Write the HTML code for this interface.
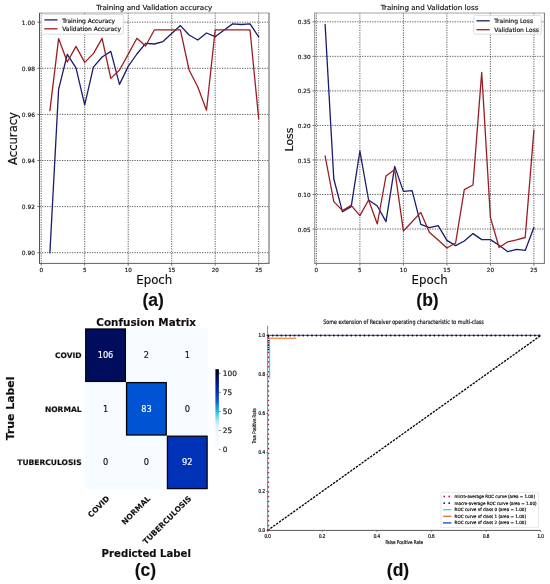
<!DOCTYPE html>
<html><head><meta charset="utf-8"><title>Training results</title>
<style>html,body{margin:0;padding:0;background:#fff;} svg{display:block;}</style></head>
<body>
<svg width="550" height="584" viewBox="0 0 550 584">
<defs><filter id="soft" x="0" y="0" width="100%" height="100%" filterUnits="userSpaceOnUse"><feGaussianBlur stdDeviation="0.32"/></filter></defs>
<rect width="550" height="584" fill="#fff"/>
<g filter="url(#soft)">
<rect width="550" height="584" fill="#fff"/>
<line x1="41.2" y1="13" x2="41.2" y2="263.4" stroke="#2a2a2a" stroke-width="0.75" stroke-dasharray="1.2 1.2"/>
<line x1="41.2" y1="263.4" x2="41.2" y2="265.6" stroke="#333" stroke-width="0.7" />
<text x="41.2" y="272.2" font-size="5.6" text-anchor="middle" font-weight="normal" font-family="'DejaVu Sans', 'Liberation Sans', sans-serif" fill="#111" stroke="#111" stroke-width="0.16" >0</text>
<line x1="84.7" y1="13" x2="84.7" y2="263.4" stroke="#2a2a2a" stroke-width="0.75" stroke-dasharray="1.2 1.2"/>
<line x1="84.7" y1="263.4" x2="84.7" y2="265.6" stroke="#333" stroke-width="0.7" />
<text x="84.7" y="272.2" font-size="5.6" text-anchor="middle" font-weight="normal" font-family="'DejaVu Sans', 'Liberation Sans', sans-serif" fill="#111" stroke="#111" stroke-width="0.16" >5</text>
<line x1="128.2" y1="13" x2="128.2" y2="263.4" stroke="#2a2a2a" stroke-width="0.75" stroke-dasharray="1.2 1.2"/>
<line x1="128.2" y1="263.4" x2="128.2" y2="265.6" stroke="#333" stroke-width="0.7" />
<text x="128.2" y="272.2" font-size="5.6" text-anchor="middle" font-weight="normal" font-family="'DejaVu Sans', 'Liberation Sans', sans-serif" fill="#111" stroke="#111" stroke-width="0.16" >10</text>
<line x1="171.7" y1="13" x2="171.7" y2="263.4" stroke="#2a2a2a" stroke-width="0.75" stroke-dasharray="1.2 1.2"/>
<line x1="171.7" y1="263.4" x2="171.7" y2="265.6" stroke="#333" stroke-width="0.7" />
<text x="171.7" y="272.2" font-size="5.6" text-anchor="middle" font-weight="normal" font-family="'DejaVu Sans', 'Liberation Sans', sans-serif" fill="#111" stroke="#111" stroke-width="0.16" >15</text>
<line x1="215.2" y1="13" x2="215.2" y2="263.4" stroke="#2a2a2a" stroke-width="0.75" stroke-dasharray="1.2 1.2"/>
<line x1="215.2" y1="263.4" x2="215.2" y2="265.6" stroke="#333" stroke-width="0.7" />
<text x="215.2" y="272.2" font-size="5.6" text-anchor="middle" font-weight="normal" font-family="'DejaVu Sans', 'Liberation Sans', sans-serif" fill="#111" stroke="#111" stroke-width="0.16" >20</text>
<line x1="258.7" y1="13" x2="258.7" y2="263.4" stroke="#2a2a2a" stroke-width="0.75" stroke-dasharray="1.2 1.2"/>
<line x1="258.7" y1="263.4" x2="258.7" y2="265.6" stroke="#333" stroke-width="0.7" />
<text x="258.7" y="272.2" font-size="5.6" text-anchor="middle" font-weight="normal" font-family="'DejaVu Sans', 'Liberation Sans', sans-serif" fill="#111" stroke="#111" stroke-width="0.16" >25</text>
<line x1="39.5" y1="252.7" x2="269" y2="252.7" stroke="#2a2a2a" stroke-width="0.75" stroke-dasharray="1.25 1.25"/>
<line x1="37.3" y1="252.7" x2="39.5" y2="252.7" stroke="#333" stroke-width="0.7" />
<text x="34.9" y="255" font-size="5.9" text-anchor="end" font-weight="normal" font-family="'DejaVu Sans', 'Liberation Sans', sans-serif" fill="#111" stroke="#111" stroke-width="0.16" >0.90</text>
<line x1="39.5" y1="206.6" x2="269" y2="206.6" stroke="#2a2a2a" stroke-width="0.75" stroke-dasharray="1.25 1.25"/>
<line x1="37.3" y1="206.6" x2="39.5" y2="206.6" stroke="#333" stroke-width="0.7" />
<text x="34.9" y="208.9" font-size="5.9" text-anchor="end" font-weight="normal" font-family="'DejaVu Sans', 'Liberation Sans', sans-serif" fill="#111" stroke="#111" stroke-width="0.16" >0.92</text>
<line x1="39.5" y1="160.5" x2="269" y2="160.5" stroke="#2a2a2a" stroke-width="0.75" stroke-dasharray="1.25 1.25"/>
<line x1="37.3" y1="160.5" x2="39.5" y2="160.5" stroke="#333" stroke-width="0.7" />
<text x="34.9" y="162.8" font-size="5.9" text-anchor="end" font-weight="normal" font-family="'DejaVu Sans', 'Liberation Sans', sans-serif" fill="#111" stroke="#111" stroke-width="0.16" >0.94</text>
<line x1="39.5" y1="114.4" x2="269" y2="114.4" stroke="#2a2a2a" stroke-width="0.75" stroke-dasharray="1.25 1.25"/>
<line x1="37.3" y1="114.4" x2="39.5" y2="114.4" stroke="#333" stroke-width="0.7" />
<text x="34.9" y="116.7" font-size="5.9" text-anchor="end" font-weight="normal" font-family="'DejaVu Sans', 'Liberation Sans', sans-serif" fill="#111" stroke="#111" stroke-width="0.16" >0.96</text>
<line x1="39.5" y1="68.3" x2="269" y2="68.3" stroke="#2a2a2a" stroke-width="0.75" stroke-dasharray="1.25 1.25"/>
<line x1="37.3" y1="68.3" x2="39.5" y2="68.3" stroke="#333" stroke-width="0.7" />
<text x="34.9" y="70.6" font-size="5.9" text-anchor="end" font-weight="normal" font-family="'DejaVu Sans', 'Liberation Sans', sans-serif" fill="#111" stroke="#111" stroke-width="0.16" >0.98</text>
<line x1="39.5" y1="22.2" x2="269" y2="22.2" stroke="#2a2a2a" stroke-width="0.75" stroke-dasharray="1.25 1.25"/>
<line x1="37.3" y1="22.2" x2="39.5" y2="22.2" stroke="#333" stroke-width="0.7" />
<text x="34.9" y="24.5" font-size="5.9" text-anchor="end" font-weight="normal" font-family="'DejaVu Sans', 'Liberation Sans', sans-serif" fill="#111" stroke="#111" stroke-width="0.16" >1.00</text>
<line x1="39.05" y1="13" x2="269.45" y2="13" stroke="#9a9a9a" stroke-width="0.9" />
<line x1="39.5" y1="13" x2="39.5" y2="263.4" stroke="#4a4a4a" stroke-width="0.95" />
<line x1="269" y1="13" x2="269" y2="263.4" stroke="#555" stroke-width="0.95" />
<line x1="39.05" y1="263.4" x2="269.45" y2="263.4" stroke="#555" stroke-width="0.95" />
<polyline points="49.9,252.8 58.6,89.4 67.3,54.4 76,67.8 84.7,104.8 93.4,67.2 102.1,57 110.8,51.4 119.5,84.4 128.2,66.4 136.9,54 145.6,43.4 154.3,44 163,41.6 171.7,33.6 180.4,25.6 189.1,35 197.8,40 206.5,33 215.2,36.7 223.9,30.2 232.6,23.9 241.3,24.5 250,23.9 258.7,36.8" fill="none" stroke="#1a1c6c" stroke-width="1.3" stroke-linejoin="round" stroke-linecap="round" />
<polyline points="49.9,110.6 58.6,38.6 67.3,62 76,46.4 84.7,62.4 93.4,53.6 102.1,38.4 110.8,78.4 119.5,70 128.2,54.4 136.9,38.2 145.6,46 154.3,29.95 163,29.95 171.7,29.95 180.4,29.95 189.1,70 197.8,87 206.5,110.2 215.2,29.95 223.9,29.95 232.6,29.95 241.3,29.95 250,29.95 258.7,118.7" fill="none" stroke="#9c1e25" stroke-width="1.3" stroke-linejoin="round" stroke-linecap="round" />
<rect x="41.6" y="14.5" width="81.8" height="19.7" rx="1.5" fill="#fff" fill-opacity="0.93" stroke="#d0d0d0" stroke-width="0.7"/>
<line x1="44.4" y1="19.9" x2="57.6" y2="19.9" stroke="#1a1c6c" stroke-width="1.3" />
<line x1="44.4" y1="28.8" x2="57.6" y2="28.8" stroke="#9c1e25" stroke-width="1.3" />
<text x="62.2" y="22.5" font-size="6.0" text-anchor="start" font-weight="normal" font-family="'DejaVu Sans', 'Liberation Sans', sans-serif" fill="#111" stroke="#111" stroke-width="0.16" >Training Accuracy</text>
<text x="62.2" y="31.4" font-size="6.0" text-anchor="start" font-weight="normal" font-family="'DejaVu Sans', 'Liberation Sans', sans-serif" fill="#111" stroke="#111" stroke-width="0.16" >Validation Accuracy</text>
<text x="154.25" y="9.9" font-size="7.17" text-anchor="middle" font-weight="normal" font-family="'DejaVu Sans', 'Liberation Sans', sans-serif" fill="#111" stroke="#111" stroke-width="0.16" >Training and Validation accuracy</text>
<text x="154.25" y="284.2" font-size="11.8" text-anchor="middle" font-weight="normal" font-family="'DejaVu Sans', 'Liberation Sans', sans-serif" fill="#111" stroke="#111" stroke-width="0.15" >Epoch</text>
<text x="16.8" y="138.5" font-size="11.6" text-anchor="middle" font-family="'DejaVu Sans', 'Liberation Sans', sans-serif" fill="#111" stroke="#111" stroke-width="0.18" transform="rotate(-90 16.8 138.5)">Accuracy</text>
<text x="153.2" y="306.1" font-size="17.5" text-anchor="middle" font-weight="bold" font-family="'Liberation Sans', 'DejaVu Sans', sans-serif" fill="#111" stroke="#111" stroke-width="0.15" >(a)</text>
<line x1="316.4" y1="13" x2="316.4" y2="263.4" stroke="#2a2a2a" stroke-width="0.75" stroke-dasharray="1.2 1.2"/>
<line x1="316.4" y1="263.4" x2="316.4" y2="265.6" stroke="#333" stroke-width="0.7" />
<text x="316.4" y="272.2" font-size="5.6" text-anchor="middle" font-weight="normal" font-family="'DejaVu Sans', 'Liberation Sans', sans-serif" fill="#111" stroke="#111" stroke-width="0.16" >0</text>
<line x1="359.9" y1="13" x2="359.9" y2="263.4" stroke="#2a2a2a" stroke-width="0.75" stroke-dasharray="1.2 1.2"/>
<line x1="359.9" y1="263.4" x2="359.9" y2="265.6" stroke="#333" stroke-width="0.7" />
<text x="359.9" y="272.2" font-size="5.6" text-anchor="middle" font-weight="normal" font-family="'DejaVu Sans', 'Liberation Sans', sans-serif" fill="#111" stroke="#111" stroke-width="0.16" >5</text>
<line x1="403.4" y1="13" x2="403.4" y2="263.4" stroke="#2a2a2a" stroke-width="0.75" stroke-dasharray="1.2 1.2"/>
<line x1="403.4" y1="263.4" x2="403.4" y2="265.6" stroke="#333" stroke-width="0.7" />
<text x="403.4" y="272.2" font-size="5.6" text-anchor="middle" font-weight="normal" font-family="'DejaVu Sans', 'Liberation Sans', sans-serif" fill="#111" stroke="#111" stroke-width="0.16" >10</text>
<line x1="446.9" y1="13" x2="446.9" y2="263.4" stroke="#2a2a2a" stroke-width="0.75" stroke-dasharray="1.2 1.2"/>
<line x1="446.9" y1="263.4" x2="446.9" y2="265.6" stroke="#333" stroke-width="0.7" />
<text x="446.9" y="272.2" font-size="5.6" text-anchor="middle" font-weight="normal" font-family="'DejaVu Sans', 'Liberation Sans', sans-serif" fill="#111" stroke="#111" stroke-width="0.16" >15</text>
<line x1="490.4" y1="13" x2="490.4" y2="263.4" stroke="#2a2a2a" stroke-width="0.75" stroke-dasharray="1.2 1.2"/>
<line x1="490.4" y1="263.4" x2="490.4" y2="265.6" stroke="#333" stroke-width="0.7" />
<text x="490.4" y="272.2" font-size="5.6" text-anchor="middle" font-weight="normal" font-family="'DejaVu Sans', 'Liberation Sans', sans-serif" fill="#111" stroke="#111" stroke-width="0.16" >20</text>
<line x1="533.9" y1="13" x2="533.9" y2="263.4" stroke="#2a2a2a" stroke-width="0.75" stroke-dasharray="1.2 1.2"/>
<line x1="533.9" y1="263.4" x2="533.9" y2="265.6" stroke="#333" stroke-width="0.7" />
<text x="533.9" y="272.2" font-size="5.6" text-anchor="middle" font-weight="normal" font-family="'DejaVu Sans', 'Liberation Sans', sans-serif" fill="#111" stroke="#111" stroke-width="0.16" >25</text>
<line x1="314.7" y1="229" x2="544.4" y2="229" stroke="#2a2a2a" stroke-width="0.75" stroke-dasharray="1.25 1.25"/>
<line x1="312.5" y1="229" x2="314.7" y2="229" stroke="#333" stroke-width="0.7" />
<text x="310.6" y="231.6" font-size="5.75" text-anchor="end" font-weight="normal" font-family="'DejaVu Sans', 'Liberation Sans', sans-serif" fill="#111" stroke="#111" stroke-width="0.16" >0.05</text>
<line x1="314.7" y1="194.47" x2="544.4" y2="194.47" stroke="#2a2a2a" stroke-width="0.75" stroke-dasharray="1.25 1.25"/>
<line x1="312.5" y1="194.47" x2="314.7" y2="194.47" stroke="#333" stroke-width="0.7" />
<text x="310.6" y="197.07" font-size="5.75" text-anchor="end" font-weight="normal" font-family="'DejaVu Sans', 'Liberation Sans', sans-serif" fill="#111" stroke="#111" stroke-width="0.16" >0.10</text>
<line x1="314.7" y1="159.94" x2="544.4" y2="159.94" stroke="#2a2a2a" stroke-width="0.75" stroke-dasharray="1.25 1.25"/>
<line x1="312.5" y1="159.94" x2="314.7" y2="159.94" stroke="#333" stroke-width="0.7" />
<text x="310.6" y="162.54" font-size="5.75" text-anchor="end" font-weight="normal" font-family="'DejaVu Sans', 'Liberation Sans', sans-serif" fill="#111" stroke="#111" stroke-width="0.16" >0.15</text>
<line x1="314.7" y1="125.41" x2="544.4" y2="125.41" stroke="#2a2a2a" stroke-width="0.75" stroke-dasharray="1.25 1.25"/>
<line x1="312.5" y1="125.41" x2="314.7" y2="125.41" stroke="#333" stroke-width="0.7" />
<text x="310.6" y="128.01" font-size="5.75" text-anchor="end" font-weight="normal" font-family="'DejaVu Sans', 'Liberation Sans', sans-serif" fill="#111" stroke="#111" stroke-width="0.16" >0.20</text>
<line x1="314.7" y1="90.88" x2="544.4" y2="90.88" stroke="#2a2a2a" stroke-width="0.75" stroke-dasharray="1.25 1.25"/>
<line x1="312.5" y1="90.88" x2="314.7" y2="90.88" stroke="#333" stroke-width="0.7" />
<text x="310.6" y="93.48" font-size="5.75" text-anchor="end" font-weight="normal" font-family="'DejaVu Sans', 'Liberation Sans', sans-serif" fill="#111" stroke="#111" stroke-width="0.16" >0.25</text>
<line x1="314.7" y1="56.35" x2="544.4" y2="56.35" stroke="#2a2a2a" stroke-width="0.75" stroke-dasharray="1.25 1.25"/>
<line x1="312.5" y1="56.35" x2="314.7" y2="56.35" stroke="#333" stroke-width="0.7" />
<text x="310.6" y="58.95" font-size="5.75" text-anchor="end" font-weight="normal" font-family="'DejaVu Sans', 'Liberation Sans', sans-serif" fill="#111" stroke="#111" stroke-width="0.16" >0.30</text>
<line x1="314.7" y1="21.82" x2="544.4" y2="21.82" stroke="#2a2a2a" stroke-width="0.75" stroke-dasharray="1.25 1.25"/>
<line x1="312.5" y1="21.82" x2="314.7" y2="21.82" stroke="#333" stroke-width="0.7" />
<text x="310.6" y="24.42" font-size="5.75" text-anchor="end" font-weight="normal" font-family="'DejaVu Sans', 'Liberation Sans', sans-serif" fill="#111" stroke="#111" stroke-width="0.16" >0.35</text>
<line x1="314.25" y1="13" x2="544.85" y2="13" stroke="#9a9a9a" stroke-width="0.9" />
<line x1="314.7" y1="13" x2="314.7" y2="263.4" stroke="#888" stroke-width="0.95" />
<line x1="544.4" y1="13" x2="544.4" y2="263.4" stroke="#6a6a6a" stroke-width="0.95" />
<line x1="314.25" y1="263.4" x2="544.85" y2="263.4" stroke="#6a6a6a" stroke-width="0.95" />
<polyline points="325.1,24.3 333.8,179 342.5,211.8 351.2,206.6 359.9,151 368.6,200 377.3,206 386,221.6 394.7,166.4 403.4,191.4 412.1,190.6 420.8,224.4 429.5,227.6 438.2,225.6 446.9,240.4 455.6,245.6 464.3,241 473,233.6 481.7,239.6 490.4,239.6 499.1,245.3 507.8,251.7 516.5,249.4 525.2,250.4 533.9,227.5" fill="none" stroke="#1a1c6c" stroke-width="1.3" stroke-linejoin="round" stroke-linecap="round" />
<polyline points="325.1,156 333.8,201.6 342.5,210.6 351.2,205.4 359.9,215.6 368.6,200 377.3,224 386,176 394.7,169.6 403.4,231 412.1,221.7 420.8,212.4 429.5,232.4 438.2,240 446.9,248 455.6,243 464.3,189.6 473,185 481.7,72.4 490.4,217.4 499.1,247.5 507.8,241.8 516.5,239.9 525.2,237.5 533.9,130.4" fill="none" stroke="#9c1e25" stroke-width="1.3" stroke-linejoin="round" stroke-linecap="round" />
<rect x="473.7" y="15.4" width="67.6" height="18.8" rx="1.5" fill="#fff" fill-opacity="0.93" stroke="#d0d0d0" stroke-width="0.7"/>
<line x1="476.5" y1="20.8" x2="489.7" y2="20.8" stroke="#1a1c6c" stroke-width="1.3" />
<line x1="476.5" y1="29.7" x2="489.7" y2="29.7" stroke="#9c1e25" stroke-width="1.3" />
<text x="494.3" y="23.4" font-size="6.0" text-anchor="start" font-weight="normal" font-family="'DejaVu Sans', 'Liberation Sans', sans-serif" fill="#111" stroke="#111" stroke-width="0.16" >Training Loss</text>
<text x="494.3" y="32.3" font-size="6.0" text-anchor="start" font-weight="normal" font-family="'DejaVu Sans', 'Liberation Sans', sans-serif" fill="#111" stroke="#111" stroke-width="0.16" >Validation Loss</text>
<text x="429.55" y="9.9" font-size="7.17" text-anchor="middle" font-weight="normal" font-family="'DejaVu Sans', 'Liberation Sans', sans-serif" fill="#111" stroke="#111" stroke-width="0.16" >Training and Validation loss</text>
<text x="429.55" y="284.2" font-size="11.8" text-anchor="middle" font-weight="normal" font-family="'DejaVu Sans', 'Liberation Sans', sans-serif" fill="#111" stroke="#111" stroke-width="0.15" >Epoch</text>
<text x="292.6" y="139.5" font-size="10.9" text-anchor="middle" font-family="'DejaVu Sans', 'Liberation Sans', sans-serif" fill="#111" stroke="#111" stroke-width="0.18" transform="rotate(-90 292.6 139.5)">Loss</text>
<text x="427.5" y="306.1" font-size="17.5" text-anchor="middle" font-weight="bold" font-family="'Liberation Sans', 'DejaVu Sans', sans-serif" fill="#111" stroke="#111" stroke-width="0.15" >(b)</text>
<rect x="85.1" y="328.4" width="122.61" height="160.8" fill="#f6fbff"/>
<rect x="85.7" y="329" width="39.67" height="52.4" fill="#010d5c" stroke="#03030c" stroke-width="1.3"/>
<text x="105.53" y="358.1" font-size="8.2" text-anchor="middle" font-weight="normal" font-family="'DejaVu Sans', 'Liberation Sans', sans-serif" fill="#fff" stroke="#fff" stroke-width="0.16" >106</text>
<text x="146.41" y="358.1" font-size="8.2" text-anchor="middle" font-weight="normal" font-family="'DejaVu Sans', 'Liberation Sans', sans-serif" fill="#111" stroke="#111" stroke-width="0.16" >2</text>
<text x="187.27" y="358.1" font-size="8.2" text-anchor="middle" font-weight="normal" font-family="'DejaVu Sans', 'Liberation Sans', sans-serif" fill="#111" stroke="#111" stroke-width="0.16" >1</text>
<text x="105.53" y="411.7" font-size="8.2" text-anchor="middle" font-weight="normal" font-family="'DejaVu Sans', 'Liberation Sans', sans-serif" fill="#111" stroke="#111" stroke-width="0.16" >1</text>
<rect x="126.57" y="382.6" width="39.67" height="52.4" fill="#0353d2" stroke="#03030c" stroke-width="1.3"/>
<text x="146.41" y="411.7" font-size="8.2" text-anchor="middle" font-weight="normal" font-family="'DejaVu Sans', 'Liberation Sans', sans-serif" fill="#fff" stroke="#fff" stroke-width="0.16" >83</text>
<text x="187.27" y="411.7" font-size="8.2" text-anchor="middle" font-weight="normal" font-family="'DejaVu Sans', 'Liberation Sans', sans-serif" fill="#111" stroke="#111" stroke-width="0.16" >0</text>
<text x="105.53" y="465.3" font-size="8.2" text-anchor="middle" font-weight="normal" font-family="'DejaVu Sans', 'Liberation Sans', sans-serif" fill="#111" stroke="#111" stroke-width="0.16" >0</text>
<text x="146.41" y="465.3" font-size="8.2" text-anchor="middle" font-weight="normal" font-family="'DejaVu Sans', 'Liberation Sans', sans-serif" fill="#111" stroke="#111" stroke-width="0.16" >0</text>
<rect x="167.44" y="436.2" width="39.67" height="52.4" fill="#0030b8" stroke="#03030c" stroke-width="1.3"/>
<text x="187.27" y="465.3" font-size="8.2" text-anchor="middle" font-weight="normal" font-family="'DejaVu Sans', 'Liberation Sans', sans-serif" fill="#fff" stroke="#fff" stroke-width="0.16" >92</text>
<text x="146.2" y="326.4" font-size="10.4" text-anchor="middle" font-weight="bold" font-family="'DejaVu Sans', 'Liberation Sans', sans-serif" fill="#111" stroke="#111" stroke-width="0.15" >Confusion Matrix</text>
<text x="81.6" y="357.95" font-size="7.55" text-anchor="end" font-weight="bold" font-family="'DejaVu Sans', 'Liberation Sans', sans-serif" fill="#111" stroke="#111" stroke-width="0.16" >COVID</text>
<text x="81.6" y="411.55" font-size="7.55" text-anchor="end" font-weight="bold" font-family="'DejaVu Sans', 'Liberation Sans', sans-serif" fill="#111" stroke="#111" stroke-width="0.16" >NORMAL</text>
<text x="81.6" y="465.15" font-size="7.55" text-anchor="end" font-weight="bold" font-family="'DejaVu Sans', 'Liberation Sans', sans-serif" fill="#111" stroke="#111" stroke-width="0.16" >TUBERCULOSIS</text>
<text x="0" y="0" font-size="7.6" text-anchor="end" font-weight="bold" font-family="'DejaVu Sans', 'Liberation Sans', sans-serif" fill="#111" stroke="#111" stroke-width="0.12" transform="translate(106.23 495.2) rotate(-45) translate(0 5.4)">COVID</text>
<text x="0" y="0" font-size="7.6" text-anchor="end" font-weight="bold" font-family="'DejaVu Sans', 'Liberation Sans', sans-serif" fill="#111" stroke="#111" stroke-width="0.12" transform="translate(147.1 495.2) rotate(-45) translate(0 5.4)">NORMAL</text>
<text x="0" y="0" font-size="7.6" text-anchor="end" font-weight="bold" font-family="'DejaVu Sans', 'Liberation Sans', sans-serif" fill="#111" stroke="#111" stroke-width="0.12" transform="translate(187.97 495.2) rotate(-45) translate(0 5.4)">TUBERCULOSIS</text>
<text x="146.3" y="557.1" font-size="10.13" text-anchor="middle" font-weight="bold" font-family="'DejaVu Sans', 'Liberation Sans', sans-serif" fill="#111" stroke="#111" stroke-width="0.15" >Predicted Label</text>
<text x="14.2" y="408.4" font-size="10.9" text-anchor="middle" font-weight="bold" font-family="'DejaVu Sans', 'Liberation Sans', sans-serif" fill="#111" stroke="#111" stroke-width="0.15" transform="rotate(-90 14.2 408.4)">True Label</text>
<text x="145.5" y="575.5" font-size="17.5" text-anchor="middle" font-weight="bold" font-family="'Liberation Sans', 'DejaVu Sans', sans-serif" fill="#111" stroke="#111" stroke-width="0.15" >(c)</text>
<defs><linearGradient id="cb" x1="0" y1="0" x2="0" y2="1"><stop offset="0" stop-color="#000000"/><stop offset="0.05" stop-color="#000322"/><stop offset="0.1" stop-color="#000a5c"/><stop offset="0.17" stop-color="#00168a"/><stop offset="0.25" stop-color="#0426a8"/><stop offset="0.32" stop-color="#0838c4"/><stop offset="0.4" stop-color="#0c5cd4"/><stop offset="0.46" stop-color="#1490e0"/><stop offset="0.52" stop-color="#1cb6e8"/><stop offset="0.58" stop-color="#60d0f0"/><stop offset="0.64" stop-color="#b0e4f6"/><stop offset="0.72" stop-color="#e0f2fa"/><stop offset="0.81" stop-color="#f0f8fd"/><stop offset="1" stop-color="#f8fcff"/></linearGradient></defs>
<rect x="215.4" y="369.2" width="3.5" height="80.2" fill="url(#cb)"/>
<line x1="218.9" y1="449.4" x2="220.7" y2="449.4" stroke="#222" stroke-width="0.6" />
<text x="222.8" y="452.4" font-size="7.4" text-anchor="start" font-weight="normal" font-family="'DejaVu Sans', 'Liberation Sans', sans-serif" fill="#111" stroke="#111" stroke-width="0.16" >0</text>
<line x1="218.9" y1="430.4" x2="220.7" y2="430.4" stroke="#222" stroke-width="0.6" />
<text x="222.8" y="433.4" font-size="7.4" text-anchor="start" font-weight="normal" font-family="'DejaVu Sans', 'Liberation Sans', sans-serif" fill="#111" stroke="#111" stroke-width="0.16" >25</text>
<line x1="218.9" y1="411.4" x2="220.7" y2="411.4" stroke="#222" stroke-width="0.6" />
<text x="222.8" y="414.4" font-size="7.4" text-anchor="start" font-weight="normal" font-family="'DejaVu Sans', 'Liberation Sans', sans-serif" fill="#111" stroke="#111" stroke-width="0.16" >50</text>
<line x1="218.9" y1="392.4" x2="220.7" y2="392.4" stroke="#222" stroke-width="0.6" />
<text x="222.8" y="395.4" font-size="7.4" text-anchor="start" font-weight="normal" font-family="'DejaVu Sans', 'Liberation Sans', sans-serif" fill="#111" stroke="#111" stroke-width="0.16" >75</text>
<line x1="218.9" y1="373.4" x2="220.7" y2="373.4" stroke="#222" stroke-width="0.6" />
<text x="222.8" y="376.4" font-size="7.4" text-anchor="start" font-weight="normal" font-family="'DejaVu Sans', 'Liberation Sans', sans-serif" fill="#111" stroke="#111" stroke-width="0.16" >100</text>
<line x1="267.6" y1="325.9" x2="267.6" y2="530.4" stroke="#858585" stroke-width="1.0" />
<line x1="267.6" y1="530.4" x2="540.7" y2="530.4" stroke="#555" stroke-width="1.0" />
<line x1="267.6" y1="530.4" x2="267.6" y2="531.9" stroke="#333" stroke-width="0.5" />
<text x="267.6" y="537.6" font-size="4.6" text-anchor="middle" font-weight="normal" font-family="'Liberation Sans', 'DejaVu Sans', sans-serif" fill="#111" stroke="#111" stroke-width="0.2" >0.0</text>
<line x1="266.1" y1="530.4" x2="267.6" y2="530.4" stroke="#333" stroke-width="0.5" />
<text x="265" y="532" font-size="4.6" text-anchor="end" font-weight="normal" font-family="'Liberation Sans', 'DejaVu Sans', sans-serif" fill="#111" stroke="#111" stroke-width="0.2" >0.0</text>
<line x1="322.22" y1="530.4" x2="322.22" y2="531.9" stroke="#333" stroke-width="0.5" />
<text x="322.22" y="537.6" font-size="4.6" text-anchor="middle" font-weight="normal" font-family="'Liberation Sans', 'DejaVu Sans', sans-serif" fill="#111" stroke="#111" stroke-width="0.2" >0.2</text>
<line x1="266.1" y1="491.42" x2="267.6" y2="491.42" stroke="#333" stroke-width="0.5" />
<text x="265" y="493.02" font-size="4.6" text-anchor="end" font-weight="normal" font-family="'Liberation Sans', 'DejaVu Sans', sans-serif" fill="#111" stroke="#111" stroke-width="0.2" >0.2</text>
<line x1="376.84" y1="530.4" x2="376.84" y2="531.9" stroke="#333" stroke-width="0.5" />
<text x="376.84" y="537.6" font-size="4.6" text-anchor="middle" font-weight="normal" font-family="'Liberation Sans', 'DejaVu Sans', sans-serif" fill="#111" stroke="#111" stroke-width="0.2" >0.4</text>
<line x1="266.1" y1="452.44" x2="267.6" y2="452.44" stroke="#333" stroke-width="0.5" />
<text x="265" y="454.04" font-size="4.6" text-anchor="end" font-weight="normal" font-family="'Liberation Sans', 'DejaVu Sans', sans-serif" fill="#111" stroke="#111" stroke-width="0.2" >0.4</text>
<line x1="431.46" y1="530.4" x2="431.46" y2="531.9" stroke="#333" stroke-width="0.5" />
<text x="431.46" y="537.6" font-size="4.6" text-anchor="middle" font-weight="normal" font-family="'Liberation Sans', 'DejaVu Sans', sans-serif" fill="#111" stroke="#111" stroke-width="0.2" >0.6</text>
<line x1="266.1" y1="413.46" x2="267.6" y2="413.46" stroke="#333" stroke-width="0.5" />
<text x="265" y="415.06" font-size="4.6" text-anchor="end" font-weight="normal" font-family="'Liberation Sans', 'DejaVu Sans', sans-serif" fill="#111" stroke="#111" stroke-width="0.2" >0.6</text>
<line x1="486.08" y1="530.4" x2="486.08" y2="531.9" stroke="#333" stroke-width="0.5" />
<text x="486.08" y="537.6" font-size="4.6" text-anchor="middle" font-weight="normal" font-family="'Liberation Sans', 'DejaVu Sans', sans-serif" fill="#111" stroke="#111" stroke-width="0.2" >0.8</text>
<line x1="266.1" y1="374.48" x2="267.6" y2="374.48" stroke="#333" stroke-width="0.5" />
<text x="265" y="376.08" font-size="4.6" text-anchor="end" font-weight="normal" font-family="'Liberation Sans', 'DejaVu Sans', sans-serif" fill="#111" stroke="#111" stroke-width="0.2" >0.8</text>
<line x1="540.7" y1="530.4" x2="540.7" y2="531.9" stroke="#333" stroke-width="0.5" />
<text x="540.7" y="537.6" font-size="4.6" text-anchor="middle" font-weight="normal" font-family="'Liberation Sans', 'DejaVu Sans', sans-serif" fill="#111" stroke="#111" stroke-width="0.2" >1.0</text>
<line x1="266.1" y1="335.5" x2="267.6" y2="335.5" stroke="#333" stroke-width="0.5" />
<text x="265" y="337.1" font-size="4.6" text-anchor="end" font-weight="normal" font-family="'Liberation Sans', 'DejaVu Sans', sans-serif" fill="#111" stroke="#111" stroke-width="0.2" >1.0</text>
<line x1="267.6" y1="530.4" x2="540.7" y2="335.5" stroke="#000" stroke-width="1.3" stroke-dasharray="2.4 1.1"/>
<line x1="268.6" y1="530.4" x2="268.6" y2="378.38" stroke="#a8e8ee" stroke-width="0.6" />
<line x1="269.5" y1="338.7" x2="269.5" y2="378.6" stroke="#14e4f6" stroke-width="1.3" />
<line x1="268.1" y1="338.2" x2="296.28" y2="338.2" stroke="#f27a28" stroke-width="1.15" />
<line x1="268.5" y1="530.4" x2="268.5" y2="337.5" stroke="#a8163e" stroke-width="1.5" stroke-dasharray="0.01 4.8" stroke-linecap="round"/>
<line x1="268.5" y1="336.4" x2="268.5" y2="352" stroke="#0a0a40" stroke-width="1.6" stroke-dasharray="0.01 4.36" stroke-linecap="round"/>
<line x1="270.8" y1="334.6" x2="540.7" y2="334.6" stroke="#f0c0b0" stroke-width="0.9" stroke-dasharray="0.01 4.36" stroke-linecap="round"/>
<line x1="267.6" y1="335.4" x2="540.7" y2="335.4" stroke="#1c56dc" stroke-width="0.9" />
<line x1="268.3" y1="335.5" x2="540.7" y2="335.5" stroke="#08083a" stroke-width="2.0" stroke-dasharray="0.01 4.36" stroke-linecap="round"/>
<text x="323.2" y="323.9" font-size="6.0" font-family="'DejaVu Sans', 'Liberation Sans', sans-serif" fill="#111" stroke="#111" stroke-width="0.18" textLength="160.7" lengthAdjust="spacingAndGlyphs">Some extension of Receiver operating characteristic to multi-class</text>
<text x="385.4" y="543.6" font-size="5.2" font-family="'DejaVu Sans', 'Liberation Sans', sans-serif" fill="#111" stroke="#111" stroke-width="0.2" textLength="37.6" lengthAdjust="spacingAndGlyphs">False Positive Rate</text>
<text x="0" y="0" font-size="5.0" font-family="'DejaVu Sans', 'Liberation Sans', sans-serif" fill="#111" stroke="#111" stroke-width="0.2" textLength="35" lengthAdjust="spacingAndGlyphs" transform="translate(256.4 443.4) rotate(-90)">True Positive Rate</text>
<rect x="441" y="492.4" width="97.6" height="35.2" rx="1.2" fill="#fff" fill-opacity="0.9" stroke="#d8d8d8" stroke-width="0.6"/>
<circle cx="444.2" cy="496.5" r="0.9" fill="#b0205a"/><circle cx="449.2" cy="496.5" r="0.9" fill="#b0205a"/>
<text x="454.6" y="498" font-size="4.4" font-family="'DejaVu Sans', 'Liberation Sans', sans-serif" fill="#111" stroke="#111" stroke-width="0.2" textLength="80.4" lengthAdjust="spacingAndGlyphs">micro-average ROC curve (area = 1.00)</text>
<circle cx="444.2" cy="503.1" r="0.9" fill="#05051e"/><circle cx="449.2" cy="503.1" r="0.9" fill="#05051e"/>
<text x="454.6" y="504.6" font-size="4.4" font-family="'DejaVu Sans', 'Liberation Sans', sans-serif" fill="#111" stroke="#111" stroke-width="0.2" textLength="82.0" lengthAdjust="spacingAndGlyphs">macro-average ROC curve (area = 1.00)</text>
<line x1="443" y1="509.7" x2="451.4" y2="509.7" stroke="#22e0f0" stroke-width="1.3" />
<text x="454.6" y="511.2" font-size="4.4" font-family="'DejaVu Sans', 'Liberation Sans', sans-serif" fill="#111" stroke="#111" stroke-width="0.2" textLength="71.4" lengthAdjust="spacingAndGlyphs">ROC curve of class 0 (area = 1.00)</text>
<line x1="443" y1="516.3" x2="451.4" y2="516.3" stroke="#f07020" stroke-width="1.3" />
<text x="454.6" y="517.8" font-size="4.4" font-family="'DejaVu Sans', 'Liberation Sans', sans-serif" fill="#111" stroke="#111" stroke-width="0.2" textLength="71.4" lengthAdjust="spacingAndGlyphs">ROC curve of class 1 (area = 1.00)</text>
<line x1="443" y1="522.9" x2="451.4" y2="522.9" stroke="#1e44b8" stroke-width="1.3" />
<text x="454.6" y="524.4" font-size="4.4" font-family="'DejaVu Sans', 'Liberation Sans', sans-serif" fill="#111" stroke="#111" stroke-width="0.2" textLength="71.4" lengthAdjust="spacingAndGlyphs">ROC curve of class 2 (area = 1.00)</text>
<text x="398" y="576.1" font-size="17.5" text-anchor="middle" font-weight="bold" font-family="'Liberation Sans', 'DejaVu Sans', sans-serif" fill="#111" stroke="#111" stroke-width="0.15" >(d)</text>
</g>
</svg>
</body></html>
